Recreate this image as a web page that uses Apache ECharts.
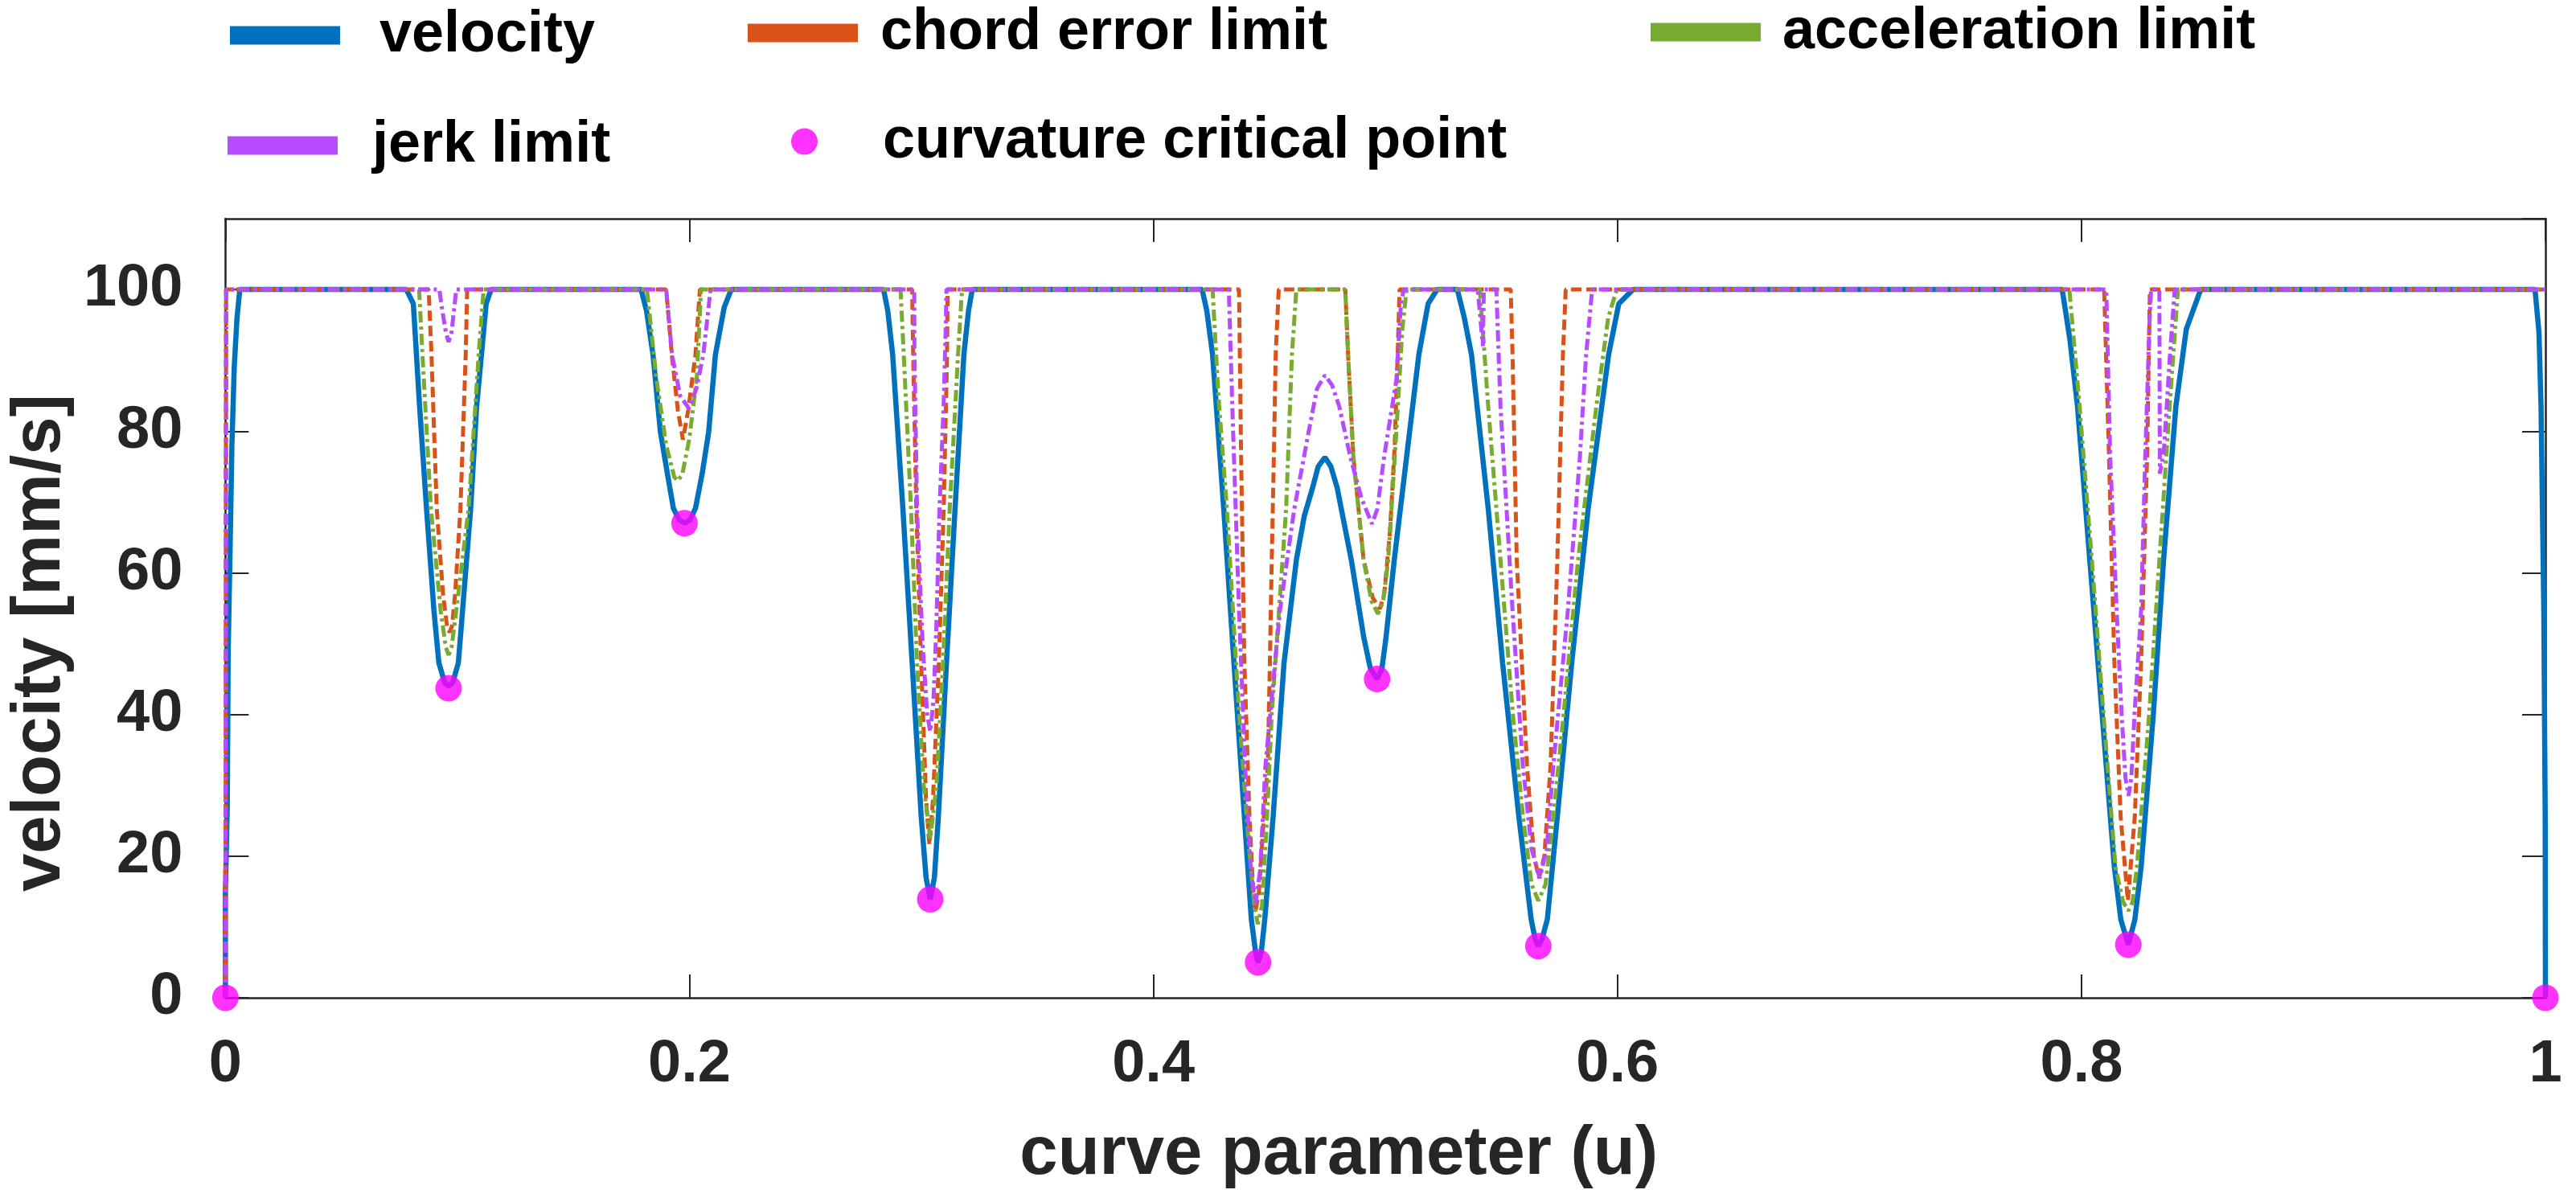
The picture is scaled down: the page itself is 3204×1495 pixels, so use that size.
<!DOCTYPE html>
<html>
<head>
<meta charset="utf-8">
<title>velocity profile</title>
<script src="https://cdn.jsdelivr.net/npm/echarts@6/dist/echarts.min.js"></script>
<style>
  html, body { margin: 0; padding: 0; background: #fff; }
  #main { width: 3204px; height: 1495px; }
</style>
</head>
<body>
<div id="main"></div>
<script>
// [u, v] pairs
const velocity = [
  [0, 0], [0, 15], [0.0008, 27], [0.0012, 49], [0.002, 63], [0.0028, 78], [0.0038, 89], [0.005, 96], [0.0062, 100],
  [0.0780, 100], [0.0810, 98], [0.0837, 83.5], [0.0867, 69], [0.0899, 54.6], [0.0920, 47.3], [0.0945, 44.5], [0.0962, 44], [0.0980, 44.5], [0.1004, 47.3], [0.1022, 54.6], [0.1057, 69], [0.1083, 83.5], [0.1124, 98], [0.1145, 100],
  [0.1792, 100], [0.1815, 97], [0.1843, 90.8], [0.1875, 79.9], [0.1905, 74], [0.1931, 69.1], [0.1955, 67.5], [0.1979, 67], [0.2003, 67.5], [0.2026, 69.1], [0.2055, 74], [0.2083, 79.9], [0.2112, 90.8], [0.2150, 97.5], [0.2180, 100],
  [0.2837, 100], [0.2855, 97], [0.2876, 90.8], [0.2920, 69.1], [0.2960, 47.3], [0.2999, 25.6], [0.3020, 17], [0.3038, 13.9], [0.3056, 17], [0.3073, 25.6], [0.3108, 47.3], [0.3145, 69.1], [0.3183, 90.8], [0.3203, 97], [0.3219, 100],
  [0.4210, 100], [0.4230, 97], [0.4255, 90.8], [0.4303, 69.1], [0.4347, 47.3], [0.4392, 25.6], [0.4422, 11.1], [0.4440, 6.5], [0.4451, 5], [0.4465, 6.5], [0.4480, 11.1], [0.4516, 25.6], [0.4563, 47.3], [0.4616, 61.8], [0.4650, 68], [0.4686, 72], [0.4710, 75], [0.4739, 76.3], [0.4765, 75], [0.4792, 72], [0.4853, 61.8], [0.4906, 51], [0.4935, 46.5], [0.4964, 45], [0.4985, 46.5], [0.5003, 51], [0.5038, 61.8], [0.5091, 76.3], [0.5144, 90.8], [0.5184, 98], [0.5223, 100],
  [0.5310, 100], [0.5340, 96], [0.5371, 90.8], [0.5443, 69.1], [0.5505, 47.3], [0.5575, 25.6], [0.5628, 11.1], [0.5645, 8.3], [0.5659, 7.3], [0.5675, 8.3], [0.5698, 11.1], [0.5741, 25.6], [0.5803, 47.3], [0.5874, 69.1], [0.5962, 90.8], [0.6006, 98], [0.6067, 100],
  [0.7917, 100], [0.7950, 93], [0.7983, 83.5], [0.8036, 61.8], [0.8089, 40.1], [0.8142, 18.4], [0.8170, 11], [0.8202, 7.5], [0.8230, 11], [0.8257, 18.4], [0.8310, 40.1], [0.8354, 61.8], [0.8407, 83.5], [0.8452, 94.4], [0.8514, 100],
  [0.9955, 100], [0.9972, 94], [0.9981, 83.5], [0.9993, 54.6], [0.9999, 25.6], [1, 0]
]

const chordErrorLimit = [
  [0, 0], [0.0003, 100],
  [0.0876, 100], [0.0888, 91], [0.0911, 69], [0.0938, 57], [0.0955, 52.5], [0.0966, 51.6], [0.0977, 52.5], [0.0990, 57], [0.1013, 69], [0.1036, 91], [0.1042, 100],
  [0.1900, 100], [0.1924, 90.8], [0.1950, 83], [0.1972, 78.8], [0.1995, 83], [0.2026, 90.8], [0.2045, 100],
  [0.2960, 100], [0.2965, 90], [0.2978, 69.1], [0.2999, 47.3], [0.3020, 28], [0.3034, 21.6], [0.3050, 28], [0.3075, 47.3], [0.3096, 69.1], [0.3110, 90], [0.3113, 100],
  [0.4369, 100], [0.4378, 76.3], [0.4392, 47.3], [0.4414, 25.6], [0.4430, 15], [0.4440, 12.2], [0.4455, 15], [0.4475, 25], [0.4493, 32.9], [0.4502, 47.3], [0.4510, 61.8], [0.4519, 76.3], [0.4527, 90.8], [0.4540, 100],
  [0.4827, 100], [0.4839, 90.8], [0.4862, 76.3], [0.4906, 61.8], [0.4945, 56.5], [0.4976, 54.9], [0.4995, 57], [0.5020, 66], [0.5040, 78], [0.5052, 90], [0.5061, 100],
  [0.5540, 100], [0.5548, 90.8], [0.5566, 61.8], [0.5610, 32.9], [0.5640, 20], [0.5662, 16.9], [0.5685, 20], [0.5712, 32.9], [0.5741, 61.8], [0.5765, 90.8], [0.5777, 100],
  [0.8098, 100], [0.8119, 76.3], [0.8142, 47.3], [0.8169, 25.6], [0.8200, 13.7], [0.8230, 25.6], [0.8257, 47.3], [0.8283, 76.3], [0.8295, 100],
  [1, 100]
]

const accelerationLimit = [
  [0, 0], [0.0003, 100],
  [0.0835, 100], [0.0849, 91], [0.0886, 69], [0.0928, 54.6], [0.0950, 49.5], [0.0962, 48.4], [0.0975, 49.5], [0.0995, 54.6], [0.1048, 69], [0.1092, 91], [0.1113, 100],
  [0.1817, 100], [0.1857, 87.6], [0.1900, 78], [0.1935, 73.5], [0.1951, 73], [0.1970, 74], [0.2000, 79], [0.2032, 87.6], [0.2050, 100],
  [0.2910, 100], [0.2925, 90], [0.2955, 69.1], [0.2981, 47.3], [0.3010, 30], [0.3038, 22.4], [0.3065, 30], [0.3093, 47.3], [0.3122, 69.1], [0.3160, 92], [0.3175, 100],
  [0.4255, 100], [0.4280, 85], [0.4317, 69], [0.4369, 40.1], [0.4410, 22], [0.4435, 13], [0.4450, 10.4], [0.4468, 13], [0.4490, 25.6], [0.4510, 40.1], [0.4572, 69], [0.4597, 90.8], [0.4616, 100],
  [0.4827, 100], [0.4839, 90.8], [0.4862, 76.3], [0.4906, 61.8], [0.4940, 56], [0.4968, 54.2], [0.4990, 56], [0.5012, 61.8], [0.5047, 79.9], [0.5073, 94.4], [0.5091, 100],
  [0.5407, 100], [0.5443, 83.5], [0.5496, 61.8], [0.5549, 40.1], [0.5593, 25.6], [0.5630, 16], [0.5659, 13.7], [0.5690, 16], [0.5724, 25.6], [0.5768, 40.1], [0.5830, 61.8], [0.5909, 83.5], [0.5960, 96], [0.5997, 100],
  [0.7948, 100], [0.7992, 83.5], [0.8045, 61.8], [0.8095, 40.1], [0.8147, 18.4], [0.8180, 13.5], [0.8203, 12.3], [0.8220, 13.5], [0.8239, 18.4], [0.8292, 40.1], [0.8336, 61.8], [0.8380, 83.5], [0.8405, 95], [0.8416, 100],
  [1, 100]
]

const jerkLimit = [
  [0, 0], [0.0003, 100],
  [0.0922, 100], [0.0935, 97], [0.0950, 94], [0.0962, 92.6], [0.0975, 94], [0.0985, 97], [0.0995, 100],
  [0.1900, 100], [0.1925, 90.8], [0.1960, 85], [0.1998, 83.2], [0.2030, 86], [0.2060, 90.8], [0.2091, 100],
  [0.2969, 100], [0.2970, 91], [0.2981, 69], [0.3005, 50], [0.3025, 40], [0.3038, 37.6], [0.3052, 42], [0.3064, 52], [0.3078, 69], [0.3096, 84], [0.3105, 95], [0.3108, 100],
  [0.4325, 100], [0.4340, 83.5], [0.4369, 54.6], [0.4395, 32.9], [0.4420, 18], [0.4440, 13.3], [0.4460, 18], [0.4483, 32.9], [0.4545, 54.6], [0.4607, 69], [0.4669, 79.9], [0.4705, 86], [0.4739, 87.9], [0.4770, 86.5], [0.4801, 83.5], [0.4849, 76.3], [0.4897, 70.5], [0.4942, 66.9], [0.4965, 69], [0.4994, 76.3], [0.5047, 87.2], [0.5067, 98], [0.5079, 100],
  [0.5398, 100], [0.5420, 92], [0.5424, 100],
  [0.5478, 100], [0.5496, 83.5], [0.5548, 54.6], [0.5592, 32.9], [0.5630, 21], [0.5665, 16.9], [0.5695, 21], [0.5724, 32.9], [0.5786, 54.6], [0.5838, 76.3], [0.5865, 90.8], [0.5891, 100],
  [0.8107, 100], [0.8124, 76.3], [0.8152, 54.6], [0.8173, 40.1], [0.8190, 31], [0.8203, 28.5], [0.8215, 31], [0.8229, 40.1], [0.8257, 54.6], [0.8275, 76.3], [0.8293, 95], [0.8300, 100],
  [0.8336, 100], [0.8338, 74], [0.8355, 77], [0.8380, 90], [0.8402, 100],
  [1, 100]
]

const criticalPoints = [
  [0, 0], [0.0962, 43.7], [0.1979, 67], [0.3038, 13.9], [0.4451, 5], [0.4964, 45], [0.5659, 7.3], [0.8202, 7.5], [1, 0]
]

const seriesNames = ['velocity', 'chord error limit', 'acceleration limit', 'jerk limit', 'curvature critical point']

const FONT = '"Liberation Sans", Arial, Helvetica, sans-serif'
const AXIS_COLOR = '#262626'

const main = document.getElementById('main')
const myChart = echarts.init(main)

const axisCommon = {
  type: 'value',
  splitLine: { show: false },
  axisLine: { show: true, onZero: false, lineStyle: { color: AXIS_COLOR, width: 2.5 } },
  axisTick: { show: true, inside: true, length: 29, lineStyle: { color: AXIS_COLOR, width: 2 } }
}

const labelStyle = {
  fontSize: 74,
  fontWeight: 'bold',
  fontFamily: FONT,
  color: AXIS_COLOR
}

const nameStyle = {
  fontSize: 85,
  fontWeight: 'bold',
  fontFamily: FONT,
  color: AXIS_COLOR
}

// one legend block per item, placed like the original two-row legend
function legendItem (name, left, top, icon, w, h, gap) {
  return {
    data: [name],
    left: left,
    top: top,
    padding: 0,
    icon: icon,
    itemWidth: w,
    itemHeight: h,
    selectedMode: false,
    textStyle: { fontSize: 72, fontWeight: 'bold', fontFamily: FONT, color: '#000', padding: [0, 0, 0, gap] }
  }
}

function lineSeries (name, data, color, width, dash) {
  return {
    name: name,
    type: 'line',
    data: data,
    symbol: 'none',
    showSymbol: false,
    clip: false,
    itemStyle: { color: color },
    lineStyle: { color: color, width: width, type: dash },
    emphasis: { disabled: true }
  }
}

myChart.setOption({
  animation: false,
  backgroundColor: '#fff',
  grid: { left: 267, right: 38, top: 272, bottom: 254 },
  legend: [
    legendItem(seriesNames[0], 286, 8, 'rect', 137, 23, 44),
    legendItem(seriesNames[1], 930, 5, 'rect', 137, 23, 23),
    legendItem(seriesNames[2], 2053, 4, 'rect', 137, 23, 22),
    legendItem(seriesNames[3], 283, 145, 'rect', 137, 23, 38),
    legendItem(seriesNames[4], 984, 140, 'circle', 137, 33, 24)
  ],
  xAxis: [
    Object.assign({}, axisCommon, {
      min: 0,
      max: 1,
      interval: 0.2,
      position: 'bottom',
      name: 'curve parameter (u)',
      nameLocation: 'middle',
      nameGap: 153,
      nameTextStyle: Object.assign({}, nameStyle, { padding: [0, 116, 0, 0] }),
      axisLabel: Object.assign({ margin: 47 }, labelStyle)
    }),
    Object.assign({}, axisCommon, {
      min: 0,
      max: 1,
      interval: 0.2,
      position: 'top',
      axisLabel: { show: false }
    })
  ],
  yAxis: [
    Object.assign({}, axisCommon, {
      min: 0,
      max: 110,
      interval: 20,
      position: 'left',
      name: 'velocity [mm/s]',
      nameLocation: 'middle',
      nameGap: 150,
      nameTextStyle: Object.assign({}, nameStyle, { padding: [0, 86, 0, 0] }),
      axisLabel: Object.assign({ margin: 53, showMaxLabel: false }, labelStyle)
    }),
    Object.assign({}, axisCommon, {
      min: 0,
      max: 110,
      interval: 20,
      position: 'right',
      axisLabel: { show: false }
    })
  ],
  series: [
    lineSeries(seriesNames[0], velocity, '#0072BD', 6.5, 'solid'),
    lineSeries(seriesNames[1], chordErrorLimit, '#D95319', 5, [13, 6]),
    lineSeries(seriesNames[2], accelerationLimit, '#77AC30', 5, [14, 5, 4, 5]),
    lineSeries(seriesNames[3], jerkLimit, '#B64BFF', 5, [14, 5, 4, 5]),
    {
      name: seriesNames[4],
      type: 'scatter',
      data: criticalPoints,
      symbol: 'circle',
      symbolSize: 33,
      clip: false,
      z: 5,
      itemStyle: { color: '#FF00FF' },
      emphasis: { disabled: true }
    }
  ]
})
</script>
</body>
</html>
